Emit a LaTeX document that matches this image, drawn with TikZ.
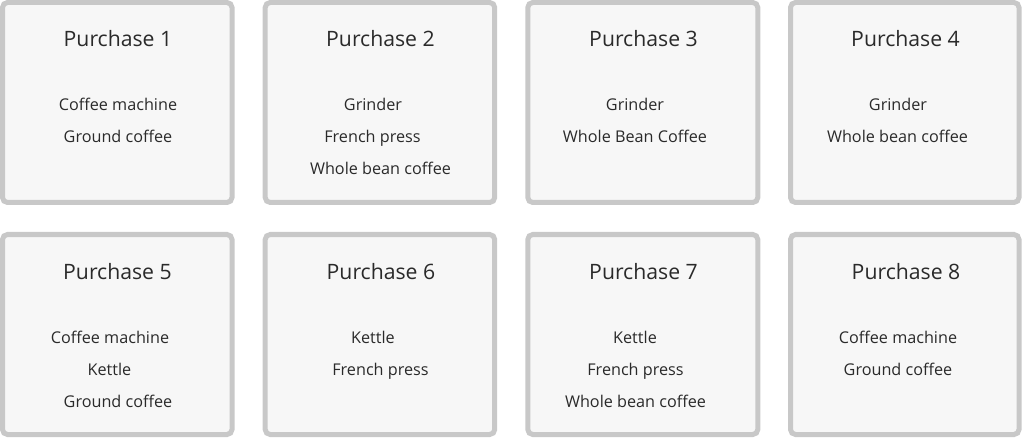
\documentclass[tikz,border=0pt]{standalone}
\usepackage{fontspec}
\setmainfont{Open Sans}
\definecolor{boxborder}{HTML}{C8C8C8}
\definecolor{boxfill}{HTML}{F7F7F7}
\definecolor{txt}{HTML}{2A2A2A}
\tikzset{
  card/.style={draw=boxborder, fill=boxfill, line width=5pt, rounded corners=5pt},
  title/.style={anchor=base, text=txt, inner sep=0pt, font=\fontsize{21.2}{25}\selectfont},
  item/.style={anchor=base, text=txt, inner sep=0pt, font=\fontsize{16.2}{19}\selectfont},
}
\begin{document}
\begin{tikzpicture}[x=1pt,y=-1pt]
\useasboundingbox (0,0) rectangle (1024,438);
% cards
\draw[card] (2.5,2.5) rectangle (232,202.5);
\draw[card] (265.2,2.5) rectangle (494.7,202.5);
\draw[card] (527.8,2.5) rectangle (757.8,202.5);
\draw[card] (790.5,2.5) rectangle (1019,202.5);
\draw[card] (2.5,234.5) rectangle (232,434.5);
\draw[card] (265.2,234.5) rectangle (494.7,434.5);
\draw[card] (527.8,234.5) rectangle (757.8,434.5);
\draw[card] (790.5,234.5) rectangle (1019,434.5);
% row 1
\node[title] (t1) at (118,47) {Purchase 1};
\node[item] (a1) at (118,111) {Coffee machine};
\node[item] (b1) at (118,143) {Ground coffee};
\node[title] (t2) at (380.5,47) {Purchase 2};
\node[item] (a2) at (373,111) {Grinder};
\node[item] (b2) at (372.5,143) {French press};
\node[item] (c2) at (380.5,175) {Whole bean coffee};
\node[title] (t3) at (643.5,47) {Purchase 3};
\node[item] (a3) at (635,111) {Grinder};
\node[item] (b3) at (635,143) {Whole Bean Coffee};
\node[title] (t4) at (905.5,47) {Purchase 4};
\node[item] (a4) at (898,111) {Grinder};
\node[item] (b4) at (897.5,143) {Whole bean coffee};
% row 2
\node[title] (t5) at (117.5,279) {Purchase 5};
\node[item] (a5) at (110,343) {Coffee machine};
\node[item] (b5) at (109.5,375) {Kettle};
\node[item] (c5) at (118,407) {Ground coffee};
\node[title] (t6) at (381,279) {Purchase 6};
\node[item] (a6) at (373,343) {Kettle};
\node[item] (b6) at (380.5,375) {French press};
\node[title] (t7) at (643.5,279) {Purchase 7};
\node[item] (a7) at (635,343) {Kettle};
\node[item] (b7) at (635.5,375) {French press};
\node[item] (c7) at (635.5,407) {Whole bean coffee};
\node[title] (t8) at (906,279) {Purchase 8};
\node[item] (a8) at (898,343) {Coffee machine};
\node[item] (b8) at (898,375) {Ground coffee};
\end{tikzpicture}
\end{document}
